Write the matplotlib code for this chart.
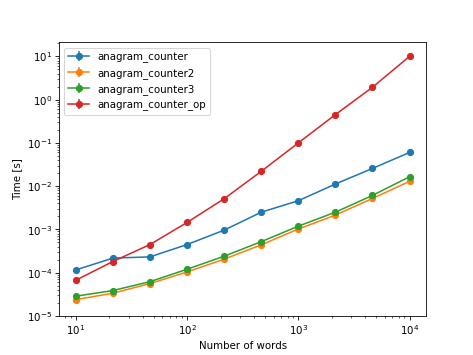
import numpy as np
import matplotlib
matplotlib.use("Agg")
import matplotlib.pyplot as plt

# ─── Data ─────────────────────────────────────────────────────────────────────
n_words = [10, 21.5, 46.4, 100, 215, 464, 1000, 2154, 4642, 10000]

t_counter = [1.16e-4, 2.17e-4, 2.32e-4, 4.47e-4, 9.6e-4,
             2.5e-3, 4.6e-3, 1.12e-2, 2.57e-2, 6.0e-2]
t_counter2 = [2.38e-5, 3.35e-5, 5.6e-5, 1.04e-4, 2.05e-4,
              4.4e-4, 1.02e-3, 2.14e-3, 5.2e-3, 1.29e-2]
t_counter3 = [2.86e-5, 3.86e-5, 6.2e-5, 1.2e-4, 2.4e-4,
              5.2e-4, 1.19e-3, 2.5e-3, 6.1e-3, 1.65e-2]
t_counter_op = [6.7e-5, 1.81e-4, 4.47e-4, 1.45e-3, 5.1e-3,
                2.2e-2, 0.1, 0.45, 1.93, 10.0]

series = [
    ("anagram_counter", t_counter),
    ("anagram_counter2", t_counter2),
    ("anagram_counter3", t_counter3),
    ("anagram_counter_op", t_counter_op),
]

# ─── Plot ─────────────────────────────────────────────────────────────────────
fig, ax = plt.subplots(figsize=(6.4, 4.8), dpi=74)

for label, times in series:
    ax.errorbar(n_words, times, yerr=np.zeros(len(times)), fmt="-o", label=label)

ax.set_xscale("log")
ax.set_yscale("log")
ax.set_ylim(1e-5, 21)
ax.set_xlabel("Number of words")
ax.set_ylabel("Time [s]")
ax.legend(loc="upper left")

fig.savefig("out.png", dpi=74)
